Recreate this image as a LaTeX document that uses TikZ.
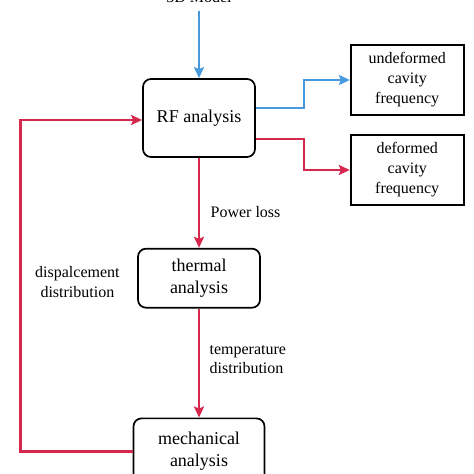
\documentclass[tikz,border=0pt]{standalone}
\usepackage{fontspec}
\setmainfont{Liberation Serif}
\usepackage{tikz}
\usetikzlibrary{positioning,arrows.meta}
\definecolor{flowblue}{RGB}{72,152,222}
\definecolor{flowred}{RGB}{214,40,78}
\tikzset{
    stage/.style={draw, line width=1.7pt, rounded corners=8pt, align=center,
        font=\fontsize{18}{22.5}\selectfont},
    result/.style={draw, line width=1.7pt, align=center, minimum width=113pt,
        minimum height=70pt, font=\fontsize{16}{20}\selectfont},
    note/.style={text=black, align=left, font=\fontsize{16}{19.5}\selectfont},
    blueflow/.style={flowblue, line width=2.6pt, -{Stealth[length=11pt,width=10pt,inset=2pt]}},
    redflow/.style={flowred, line width=2.6pt, -{Stealth[length=11pt,width=10pt,inset=2pt]}}
}
\begin{document}
\begin{tikzpicture}[x=1pt,y=1pt]
    \useasboundingbox (0,0) rectangle (474,474);
    \node[stage, minimum width=112pt, minimum height=78pt] (rf) at (199,356) {RF analysis};
    \node[stage, minimum width=122pt, minimum height=59pt, below=90pt of rf] (thermal) {thermal\\analysis};
    \node[stage, minimum width=131pt, minimum height=66pt, below=109pt of thermal] (mech) {mechanical\\analysis};
    \node[result, right=94pt of rf, yshift=38pt] (undef) {undeformed\\cavity\\frequency};
    \node[result, right=94pt of rf, yshift=-52pt] (def) {deformed\\cavity\\frequency};
    \node[note, above=72pt of rf] (model) {3D Model};
    \node[note, align=center, left=14pt of thermal, yshift=-4pt] (displ) {dispalcement\\distribution};

    \draw[blueflow, shorten <=5pt] (model) -- (rf);
    \draw[blueflow] ([yshift=10pt]rf.east) -- ++(48,0) |- (undef.west);
    \draw[redflow] ([yshift=-21pt]rf.east) -- ++(48,0) |- (def.west);
    \draw[redflow] (rf) -- node[note, pos=0.6, right=7pt] {Power loss} (thermal);
    \draw[redflow] (thermal) -- node[note, pos=0.47, right=6pt] {temperature\\distribution} (mech);
    \draw[redflow] (mech.west) -- ++(-112,0) |- ([yshift=-2pt]rf.west);
\end{tikzpicture}
\end{document}
